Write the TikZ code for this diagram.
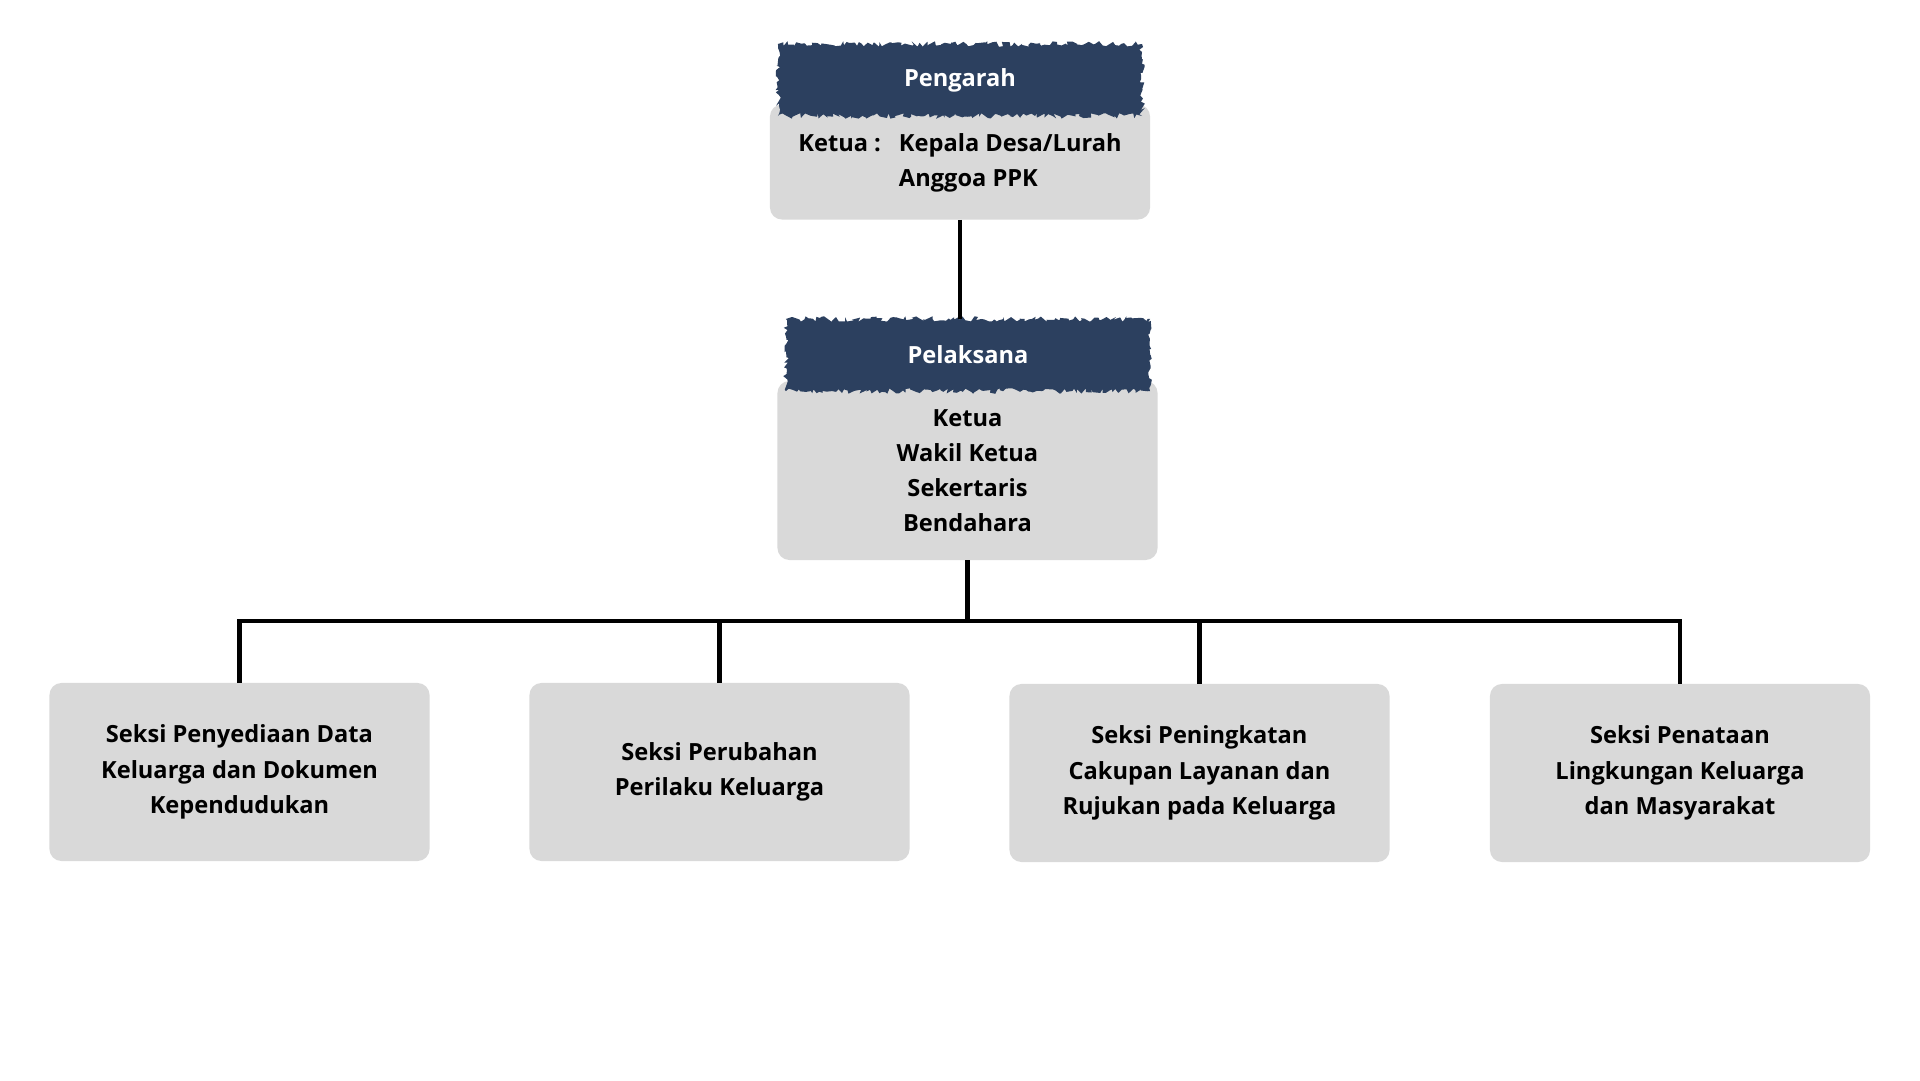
\documentclass[tikz,border=0pt]{standalone}
\usepackage{fontspec}
\setmainfont{Open Sans}
\usetikzlibrary{positioning,decorations.pathmorphing}
\definecolor{abuabu}{HTML}{D9D9D9}
\definecolor{navy}{HTML}{2C405F}

\begin{document}
\pgfmathsetseed{12}
\begin{tikzpicture}[x=0.025cm, y=-0.025cm,
  unit/.style={fill=abuabu, rounded corners=0.3cm, minimum width=9.5cm, minimum height=4.45cm,
               font=\fontsize{16.8}{25}\selectfont\bfseries, align=center, text=black},
  head/.style={fill=navy, minimum width=9.1cm, minimum height=1.8cm, text=white,
               font=\fontsize{16.8}{25}\selectfont\bfseries,
               decorate, decoration={random steps, segment length=2pt, amplitude=2pt}},
  line/.style={-, line width=3.2pt}
]
  \useasboundingbox[fill=white] (0,0) rectangle (1920,1080);

  \node[unit, minimum height=2.875cm] (pengarah) at (960,162)
    {\begin{tabular}{@{}l@{\hspace{0.45cm}}l@{}}Ketua : & Kepala Desa/Lurah\\ & Anggoa PPK\end{tabular}};
  \node[unit, minimum height=4.475cm] (pelaksana) at (967.5,470.5)
    {Ketua\\Wakil Ketua\\Sekertaris\\Bendahara};

  \node[head] (pgrhead) at (960,80)    {Pengarah};
  \node[head] (plkhead) at (968,355)   {Pelaksana};

  \node[unit] (seksi1) at (239.5,772)  {Seksi Penyediaan Data\\Keluarga dan Dokumen\\Kependudukan};
  \node[unit] (seksi2) at (719.5,772)  {Seksi Perubahan\\Perilaku Keluarga};
  \node[unit] (seksi3) at (1199.5,773) {Seksi Peningkatan\\Cakupan Layanan dan\\Rujukan pada Keluarga};
  \node[unit] (seksi4) at (1680,773)   {Seksi Penataan\\Lingkungan Keluarga\\dan Masyarakat};

  \coordinate (bus) at (967.5,621);

  % pengarah ke pelaksana
  \draw[line] (pengarah.south) -- (pengarah.south |- plkhead.north);
  % pelaksana ke seksi
  \draw[line] (pelaksana.south) -- (bus);
  \draw[line] (bus) -| (seksi1.north);
  \draw[line] (bus) -| (seksi2.north);
  \draw[line] (bus) -| (seksi3.north);
  \draw[line] (bus) -| (seksi4.north);

\end{tikzpicture}
\end{document}
